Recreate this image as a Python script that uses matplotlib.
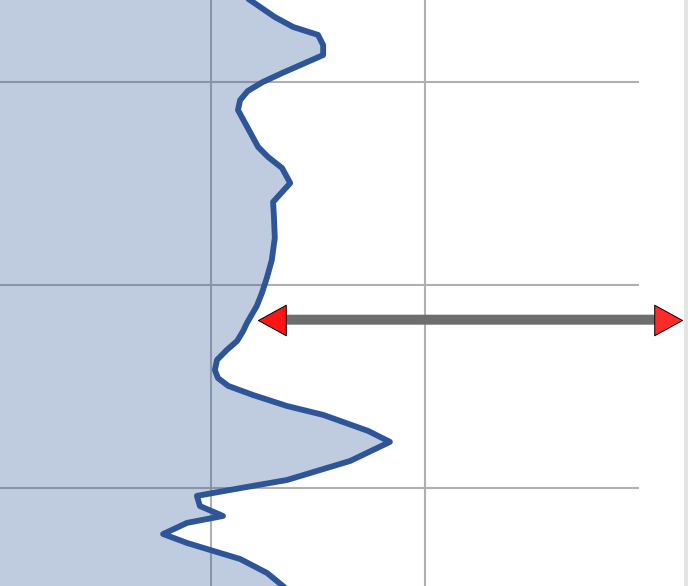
import matplotlib
matplotlib.use("Agg")
from matplotlib import pyplot as plt
from matplotlib.path import Path
import numpy as np

# log curve: value vs depth
depth = [59.6, 68.0, 72.9, 76.8, 81.8, 86.7, 90.6, 95.6, 100.0, 104.4,
         108.9, 113.8, 122.7, 132.0, 136.9, 142.4, 149.8, 159.1, 166.5, 176.8,
         187.7, 196.1, 203.9, 210.3, 218.7, 222.7, 227.6, 232.0, 236.9, 241.9,
         245.8, 249.7, 254.2, 259.6, 264.0, 271.9, 277.3, 286.7, 296.1, 299.5,
         303.9, 308.9, 313.8, 317.2, 322.7, 327.1, 331.0, 335.0, 341.9, 348.3]
value = [59.1, 64.9, 69.2, 75.0, 76.2, 76.2, 72.0, 66.6, 62.1, 58.6,
         56.8, 56.3, 58.6, 61.0, 63.3, 66.6, 68.5, 64.5, 64.7, 64.9,
         64.2, 63.1, 61.9, 60.7, 58.4, 57.5, 56.1, 53.7, 51.4, 50.9,
         51.6, 54.0, 59.8, 67.7, 76.2, 86.7, 91.8, 82.5, 67.7, 58.4,
         46.7, 47.4, 52.8, 44.4, 38.8, 44.4, 50.5, 56.8, 63.1, 66.8]

x_grid = [50, 100]
depth_grid = [100, 200, 300]
grid_end = 150

arrow_depth = 217.1
arrow_x = [61.0, 160.0]

line_color = '#2e5597'

fig = plt.figure(figsize=(6.88, 5.86), dpi=100, facecolor='#e4e4e4')
ax = fig.add_axes([0, 0, 684 / 688, 1])
ax.set_facecolor('white')

ax.vlines(x_grid, 0, 400, color='#b0b0b0', linewidth=1.5, zorder=1)
ax.hlines(depth_grid, 0, grid_end, color='#b0b0b0', linewidth=1.5, zorder=1)

ax.fill_betweenx(depth, 0, value, color=line_color, alpha=0.3, linewidth=0, zorder=2)
ax.plot(value, depth, color=line_color, linewidth=4.2, solid_joinstyle='round', zorder=3)

# double headed arrow: shaft stops at the head bases
ax.annotate('', xy=(arrow_x[1], arrow_depth), xytext=(arrow_x[0], arrow_depth),
            arrowprops=dict(arrowstyle='-', color='#6e6e6e', lw=7.2,
                            shrinkA=19.5, shrinkB=19.5, capstyle='butt'),
            zorder=4)
left_head = Path([(0, 0), (1, 0.55), (1, -0.55), (0, 0)])
right_head = Path([(0, 0), (-1, 0.55), (-1, -0.55), (0, 0)])
ax.plot([arrow_x[0]], [arrow_depth], marker=left_head, markersize=40,
        markerfacecolor='#ff1414', markeredgecolor='black', markeredgewidth=0.7,
        linestyle='none', zorder=5)
ax.plot([arrow_x[1]], [arrow_depth], marker=right_head, markersize=40,
        markerfacecolor='#ff2a2a', markeredgecolor='black', markeredgewidth=0.7,
        linestyle='none', zorder=5)

ax.set_xlim(0.7, 160.5)
ax.set_ylim(348.3, 59.6)
ax.set_xticks([])
ax.set_yticks([])
for s in ax.spines.values():
    s.set_visible(False)

fig.savefig('out.png', dpi=100, facecolor=fig.get_facecolor())
plt.close()
